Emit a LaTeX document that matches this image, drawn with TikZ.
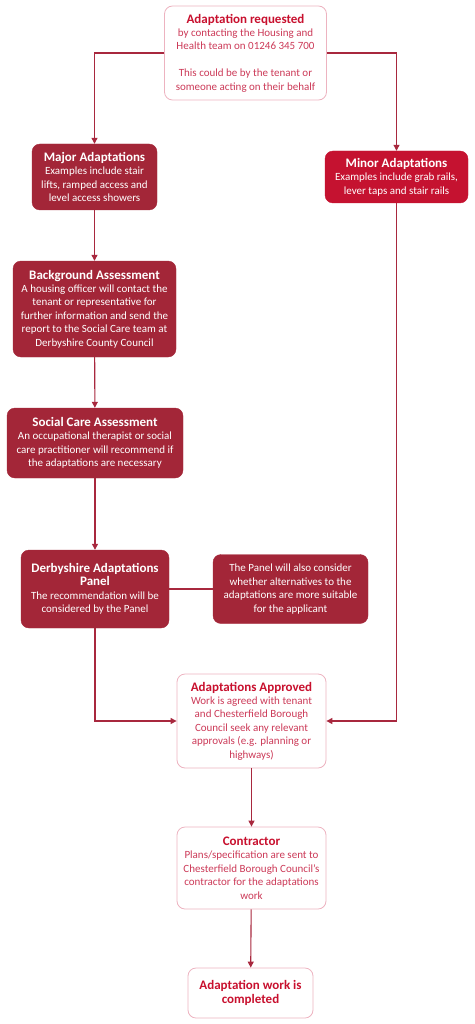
\documentclass[tikz,border=0pt]{standalone}
\usepackage{fontspec}
\setmainfont{Carlito}
\usepackage{tikz}
\usetikzlibrary{arrows.meta,positioning}
\definecolor{darkred}{HTML}{A32638}
\definecolor{brightred}{HTML}{C51230}
\definecolor{titlered}{HTML}{C8102E}
\definecolor{bodyred}{HTML}{CC3A58}
\definecolor{pinkline}{HTML}{EDB3C0}
\definecolor{linkred}{HTML}{A8283E}
\tikzset{
	stage/.style={
		rectangle,
		rounded corners=8pt,
		align=center,
		inner sep=2pt,
		font=\fontsize{11}{13.4}\selectfont
	}
}
\newcommand{\titlefont}{\fontsize{13}{14.5}\selectfont\bfseries}

\begin{document}
\begin{tikzpicture}[x=1pt,y=-1pt]
			\tikzstyle{main}=[stage, fill=darkred, text=white, draw=darkred]
			\tikzstyle{minor}=[stage, fill=brightred, text=white, draw=brightred]
			\tikzstyle{open}=[stage, fill=white, draw=pinkline, line width=0.8pt, text=bodyred]
			\tikzstyle{connect}=[draw=linkred, line width=1.1pt]
			\tikzstyle{arr}=[connect, -{Triangle[width=6pt,length=6pt]}]
			\useasboundingbox (0,0) rectangle (474,1024);
			\node[open, minimum width=162pt, minimum height=94pt] (a) at (245.5,53) {\titlefont\color{titlered}Adaptation requested\\by contacting the Housing and\\Health team on 01246 345 700\\[13.4pt]This could be by the tenant or\\someone acting on their behalf};
			\node[main, minimum width=125pt, minimum height=66pt] (b) at (94.5,177) {\titlefont Major Adaptations\\Examples include stair\\lifts, ramped access and\\level access showers};
			\node[minor, minimum width=143pt, minimum height=52pt] (c) at (396.5,177) {\titlefont Minor Adaptations\\Examples include grab rails,\\lever taps and stair rails};
			\node[main, minimum width=163pt, minimum height=96pt] (d) at (94.5,309) {\titlefont Background Assessment\\A housing officer will contact the\\tenant or representative for\\further information and send the\\report to the Social Care team at\\Derbyshire County Council};
			\node[main, minimum width=176pt, minimum height=70pt] (e) at (95,443) {\titlefont Social Care Assessment\\An occupational therapist or social\\care practitioner will recommend if\\the adaptations are necessary};
			\node[main, minimum width=148pt, minimum height=78pt] (f) at (95,589) {\titlefont Derbyshire Adaptations\\\titlefont Panel\\The recommendation will be\\considered by the Panel};
			\node[main, minimum width=155pt, minimum height=69pt] (g) at (290.5,589) {The Panel will also consider\\whether alternatives to the\\adaptations are more suitable\\for the applicant};
			\node[open, minimum width=149pt, minimum height=94pt] (h) at (251.5,721) {\titlefont\color{titlered}Adaptations Approved\\Work is agreed with tenant\\and Chesterfield Borough\\Council seek any relevant\\approvals (e.g. planning or\\highways)};
			\node[open, minimum width=149pt, minimum height=82pt] (i) at (251.5,868) {\titlefont\color{titlered}Contractor\\Plans/specification are sent to\\Chesterfield Borough Council’s\\contractor for the adaptations\\work};
			\node[open, minimum width=125pt, minimum height=50pt, text=titlered] (j) at (250.5,993) {\titlefont Adaptation work is\\\titlefont completed};

			\draw[arr] (a.west) -| (b.north);
			\draw[arr] (a.east) -| (c.north);
			\draw[arr] (b) -- (d);
			\draw[arr] (d) -- (e);
			\draw[arr] (e) -- (f);
			\draw[connect] (f) -- (g);
			\draw[arr] (f.south) |- (h.west);
			\draw[arr] (c.south) |- (h.east);
			\draw[arr] (h) -- (i);
			\draw[arr] (i) -- (j);
\end{tikzpicture}
\end{document}
